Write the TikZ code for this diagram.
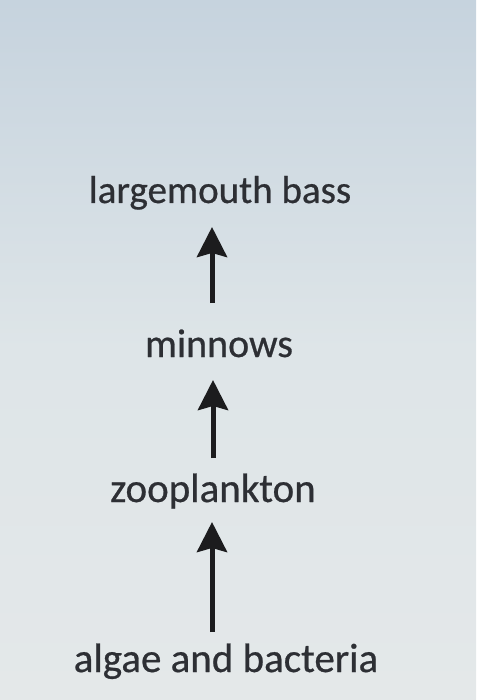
\documentclass[tikz,border=0pt]{standalone}
\usepackage{fontspec}
\setmainfont{Carlito}
\newfontfamily\labelfont{Carlito}[FakeBold=0.6]
\usetikzlibrary{arrows.meta}
\definecolor{bgtop}{RGB}{198,211,222}
\definecolor{bgmid}{RGB}{222,229,232}
\definecolor{bgbot}{RGB}{228,232,233}
\definecolor{txt}{RGB}{45,47,52}
\definecolor{arrc}{RGB}{28,28,30}
\tikzset{
  label/.style={inner sep=0pt, anchor=base, text=txt},
  arr/.style={draw=arrc, line width=5pt,
    -{Stealth[length=30pt,width=30pt,inset=4pt]}}
}
\begin{document}
\begin{tikzpicture}[x=1pt,y=-1pt]
\shade[top color=bgtop, bottom color=bgbot, middle color=bgmid] (0,0) rectangle (476,700);
\useasboundingbox (0,0) rectangle (476,700);
\node[label, font=\labelfont\fontsize{39}{46}\selectfont] (bass) at (220,203) {largemouth bass};
\node[label, font=\labelfont\fontsize{40}{48}\selectfont] (minnows) at (219,357) {minnows};
\node[label, font=\labelfont\fontsize{41}{49}\selectfont] (zoo) at (213,502) {zooplankton};
\node[label, font=\labelfont\fontsize{41}{49}\selectfont] (algae) at (226,672) {algae and bacteria};
\draw[arr] ([xshift=-7pt,yshift=54pt]minnows.base) -- ([xshift=-8pt,yshift=-24pt]bass.base);
\draw[arr] ([xshift=0pt,yshift=44pt]zoo.base) -- ([xshift=-6pt,yshift=-23pt]minnows.base);
\draw[arr] ([xshift=-14pt,yshift=40pt]algae.base) -- ([xshift=-1pt,yshift=-20pt]zoo.base);
\end{tikzpicture}
\end{document}
